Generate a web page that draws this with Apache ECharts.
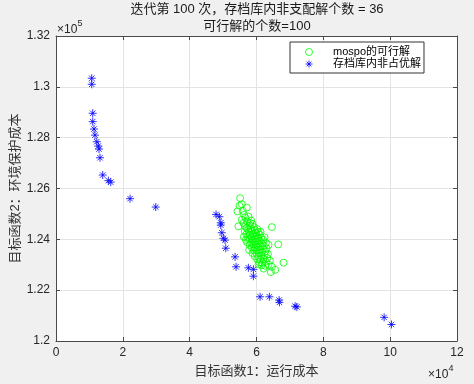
<!DOCTYPE html>
<html><head><meta charset="utf-8">
<script src="https://cdn.jsdelivr.net/npm/echarts@6/dist/echarts.min.js"></script>
<style>html,body{margin:0;padding:0;background:#f0f0f0}#c{width:474px;height:384px}</style>
</head><body><div id="c"></div>
<script>
// tick values (x in 1e4, y in 1e5)
const xTicks = [0, 2, 4, 6, 8, 10, 12];
const yTicks = [1.2, 1.22, 1.24, 1.26, 1.28, 1.3, 1.32];

// 存档库内非占优解 (36 points)
const archiveX = [1.069,1.069,1.099,1.099,1.138,1.168,1.219,1.266,1.287,1.317,1.398,1.566,1.638,2.216,2.985,
  4.790,4.889,4.931,4.931,4.961,5.009,5.060,5.081,5.359,5.389,5.757,5.907,5.907,6.108,6.386,6.677,6.686,7.156,7.207,
  9.820,10.039];
const archiveY = [1.3034,1.3010,1.2896,1.2863,1.2834,1.2810,1.2784,1.2767,1.2755,1.2721,1.2653,1.2631,1.2625,1.2560,1.2527,
  1.2498,1.2489,1.2465,1.2456,1.2426,1.2404,1.2397,1.2365,1.2331,1.2292,1.2288,1.2282,1.2255,1.2174,1.2174,1.2161,1.2152,1.2137,1.2134,
  1.2093,1.2065];

// mospo的可行解 (100 points)
const feasibleX = [5.51,5.49,5.56,5.71,5.59,5.43,5.63,5.76,5.56,5.61,5.46,5.66,5.81,6.46,
  5.72,5.80,5.88,5.70,5.75,5.83,5.92,5.65,5.78,5.86,5.95,6.02,5.70,5.80,5.90,5.98,6.05,
  5.62,5.74,5.85,5.93,6.00,6.10,5.68,5.78,5.88,5.96,6.04,6.14,5.72,5.84,5.93,6.01,6.10,6.20,
  5.80,5.90,5.98,6.07,6.16,6.28,5.86,5.95,6.04,6.13,6.22,6.36,5.78,5.92,6.01,6.10,6.19,6.30,
  5.88,6.00,6.08,6.17,6.26,6.65,5.95,6.06,6.14,6.24,6.34,6.02,6.12,6.21,6.32,6.08,6.18,6.28,6.40,
  6.15,6.26,6.21,6.46,6.81,6.56,6.43,6.06,6.36,5.98,5.84,5.67,6.12,6.24];
const feasibleY = [1.2562,1.2532,1.2538,1.2525,1.2512,1.2510,1.2496,1.2489,1.2477,1.2464,1.2451,1.2451,1.2464,1.2448,
  1.2470,1.2455,1.2460,1.2445,1.2438,1.2442,1.2448,1.2432,1.2428,1.2432,1.2436,1.2440,1.2420,1.2418,1.2422,1.2425,1.2428,
  1.2410,1.2408,1.2410,1.2412,1.2414,1.2418,1.2398,1.2400,1.2398,1.2402,1.2404,1.2406,1.2388,1.2388,1.2390,1.2392,1.2394,1.2398,
  1.2378,1.2380,1.2378,1.2382,1.2384,1.2386,1.2368,1.2366,1.2370,1.2372,1.2374,1.2378,1.2358,1.2356,1.2358,1.2360,1.2362,1.2364,
  1.2346,1.2344,1.2348,1.2350,1.2352,1.2380,1.2334,1.2332,1.2336,1.2338,1.2342,1.2322,1.2320,1.2324,1.2326,1.2310,1.2308,1.2312,1.2316,
  1.2298,1.2296,1.2285,1.2292,1.2308,1.2280,1.2271,1.2302,1.2300,1.2426,1.2474,1.2484,1.2430,1.2408];

const titleLine1 = '迭代第 100 次，存档库内非支配解个数 = 36';
const titleLine2 = '可行解的个数=100';
const xName = '目标函数1：运行成本';
const yName = '目标函数2：环境保护成本';
const seriesNames = ['mospo的可行解', '存档库内非占优解'];

const FONT = '"Liberation Sans", "Noto Sans CJK SC", sans-serif';
const AX = '#4a4a4a';
const starPath = 'path://M5 0L5 10M0 5L10 5M1.6 1.6L8.4 8.4M1.6 8.4L8.4 1.6';
const fmt = v => String(+(+v).toFixed(2));

const chart = echarts.init(document.getElementById('c'), null, {renderer: 'canvas'});
const baseX = {type: 'value', min: xTicks[0], max: xTicks[xTicks.length-1], interval: xTicks[1]-xTicks[0]};
const baseY = {type: 'value', min: yTicks[0], max: yTicks[yTicks.length-1], interval: 0.02};
const tick = {show: true, inside: true, length: 4, lineStyle: {color: AX}};
const line = {show: true, onZero: false, lineStyle: {color: AX, width: 1}};

chart.setOption({
  backgroundColor: '#f0f0f0',
  animation: false,
  textStyle: {fontFamily: FONT},
  grid: {left: 56, right: 17, top: 36, bottom: 43, show: true, backgroundColor: '#ffffff', borderWidth: 0,
    containLabel: false, outerBoundsMode: 'none'},
  xAxis: [
    Object.assign({}, baseX, {position: 'bottom', axisLine: line, axisTick: tick,
      axisLabel: {color: '#262626', fontSize: 12, margin: 6, formatter: fmt, fontFamily: FONT},
      splitLine: {show: true, lineStyle: {color: '#e3e3e3'}},
      name: xName, nameLocation: 'middle', nameGap: 24, nameMoveOverlap: false,
      nameTextStyle: {color: '#333', fontSize: 13, fontFamily: FONT}}),
    Object.assign({}, baseX, {position: 'top', axisLine: line, axisTick: tick, axisLabel: {show: false}, splitLine: {show: false}})
  ],
  yAxis: [
    Object.assign({}, baseY, {position: 'left', axisLine: line, axisTick: tick,
      axisLabel: {color: '#262626', fontSize: 12, margin: 6, formatter: fmt, fontFamily: FONT},
      splitLine: {show: true, lineStyle: {color: '#e3e3e3'}},
      name: yName, nameLocation: 'middle', nameGap: 34, nameMoveOverlap: false,
      nameTextStyle: {color: '#333', fontSize: 13, fontFamily: FONT}}),
    Object.assign({}, baseY, {position: 'right', axisLine: line, axisTick: tick, axisLabel: {show: false}, splitLine: {show: false}})
  ],
  legend: {
    orient: 'vertical', left: 290, top: 42, padding: [4, 3, 3, 15],
    itemWidth: 38, itemHeight: 7, itemGap: 0,
    backgroundColor: '#ffffff', borderColor: '#333', borderWidth: 1, borderRadius: 0,
    textStyle: {fontSize: 11, lineHeight: 12, color: '#000', fontFamily: FONT},
    itemStyle: {borderWidth: 1},
    data: seriesNames
  },
  graphic: [
    {type: 'text', x: 257, y: 9, style: {text: titleLine1, fill: '#1a1a1a', font: '13px ' + FONT, textAlign: 'center', textVerticalAlign: 'middle'}},
    {type: 'text', x: 257, y: 26.5, style: {text: titleLine2, fill: '#1a1a1a', font: '13px ' + FONT, textAlign: 'center', textVerticalAlign: 'middle'}},
    {type: 'text', x: 57, y: 30, style: {text: '×10', fill: '#262626', font: '12px ' + FONT, textAlign: 'left', textVerticalAlign: 'middle'}},
    {type: 'text', x: 77.5, y: 24, style: {text: '5', fill: '#262626', font: '9px ' + FONT, textAlign: 'left', textVerticalAlign: 'middle'}},
    {type: 'text', x: 428, y: 375, style: {text: '×10', fill: '#262626', font: '12px ' + FONT, textAlign: 'left', textVerticalAlign: 'middle'}},
    {type: 'text', x: 448.5, y: 369, style: {text: '4', fill: '#262626', font: '9px ' + FONT, textAlign: 'left', textVerticalAlign: 'middle'}}
  ],
  series: [
    {name: seriesNames[0], type: 'scatter', xAxisIndex: 0, yAxisIndex: 0, symbol: 'circle', symbolSize: 7,
      itemStyle: {color: 'rgba(0,0,0,0)', borderColor: '#00ff00', borderWidth: 1},
      data: feasibleX.map((x, i) => [x, feasibleY[i]])},
    {name: seriesNames[1], type: 'scatter', xAxisIndex: 0, yAxisIndex: 0, symbol: starPath, symbolSize: 8,
      itemStyle: {color: '#0000ff', borderColor: '#0000ff', borderWidth: 1},
      data: archiveX.map((x, i) => [x, archiveY[i]])}
  ]
});
</script></body></html>
